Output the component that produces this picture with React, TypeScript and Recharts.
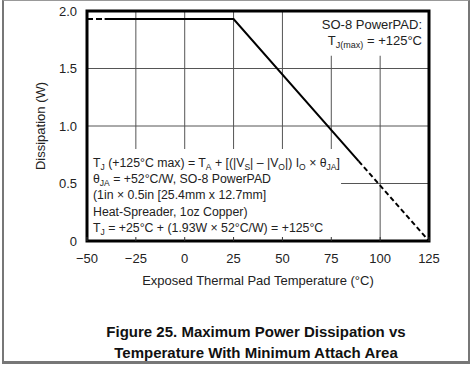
import React from "react";
import {
  LineChart,
  Line,
  XAxis,
  YAxis,
  CartesianGrid,
  ReferenceArea,
} from "recharts";

const tempTicks = [-50, -25, 0, 25, 50, 75, 100, 125];
const powerTicks = [0, 0.5, 1, 1.5, 2];

const dashedLeft = [
  { t: -50, p: 1.93 },
  { t: -41, p: 1.93 },
];
const solidPart = [
  { t: -41, p: 1.93 },
  { t: 25, p: 1.93 },
  { t: 89, p: 0.695 },
];
const dashedRight = [
  { t: 89, p: 0.695 },
  { t: 125, p: 0 },
];

const FONT = "'Liberation Sans', Arial, Helvetica, sans-serif";

// [text, isSubscript]
type Part = [string, boolean];

const renderParts = (parts: Part[], subSize: number) => {
  const out: React.ReactNode[] = [];
  let prevSub = false;
  parts.forEach(([txt, sub], i) => {
    let dy = 0;
    if (sub && !prevSub) dy = 3;
    if (!sub && prevSub) dy = -3;
    out.push(
      <tspan key={i} dy={dy || undefined} fontSize={sub ? subSize : undefined}>
        {txt}
      </tspan>
    );
    prevSub = sub;
  });
  return out;
};

const line1: Part[] = [
  ["T", false],
  ["J", true],
  [" (+125°C max) = T", false],
  ["A", true],
  [" + [(|V", false],
  ["S", true],
  ["| – |V", false],
  ["O", true],
  ["|) I", false],
  ["O", true],
  [" × θ", false],
  ["JA", true],
  ["]", false],
];
const line2: Part[] = [
  ["θ", false],
  ["JA", true],
  [" = +52°C/W, SO-8 PowerPAD", false],
];
const line5: Part[] = [
  ["T", false],
  ["J", true],
  [" = +25°C + (1.93W × 52°C/W) = +125°C", false],
];
const tjMax: Part[] = [
  ["T", false],
  ["J(max)", true],
  [" = +125°C", false],
];

const Annotations = () => (
  <svg
    width={474}
    height={367}
    style={{ position: "absolute", left: 0, top: 0, pointerEvents: "none" }}
  >
    <g fontFamily={FONT} fill="#222">
      {/* upper right note */}
      <text x={422} y={29} fontSize={13} textAnchor="end">
        SO-8 PowerPAD:
      </text>
      <text x={422} y={45} fontSize={13} textAnchor="end">
        {renderParts(tjMax, 9)}
      </text>
      {/* lower left note */}
      <text x={93} y={167} fontSize={12.3}>
        {renderParts(line1, 8.5)}
      </text>
      <text x={93} y={183} fontSize={12.3}>
        {renderParts(line2, 8.5)}
      </text>
      <text x={93} y={199} fontSize={12.3}>
        (1in × 0.5in [25.4mm x 12.7mm]
      </text>
      <text x={93} y={216} fontSize={12.3}>
        Heat-Spreader, 1oz Copper)
      </text>
      <text x={93} y={232} fontSize={12.3}>
        {renderParts(line5, 8.5)}
      </text>
      {/* axis titles */}
      <text x={258} y={285} fontSize={13} textAnchor="middle">
        Exposed Thermal Pad Temperature (°C)
      </text>
      <text
        x={40}
        y={126}
        fontSize={13}
        textAnchor="middle"
        dominantBaseline="central"
        transform="rotate(-90 40 126)"
      >
        Dissipation (W)
      </text>
      {/* figure caption */}
      <text x={256} y={337} fontSize={15} fontWeight="bold" fill="#111" textAnchor="middle">
        Figure 25. Maximum Power Dissipation vs
      </text>
      <text x={256} y={358} fontSize={15} fontWeight="bold" fill="#111" textAnchor="middle">
        Temperature With Minimum Attach Area
      </text>
    </g>
  </svg>
);

const fmtY = (v: number) => (v === 0 ? "0" : v.toFixed(1));
const fmtX = (v: number) => (v < 0 ? "\u2212" + Math.abs(v) : String(v));

export default function App() {
  return (
    <div style={{ position: "absolute", left: 0, top: 0, width: 474, height: 367, background: "#fff" }}>
      <div
        style={{
          position: "absolute",
          left: 2,
          top: 0,
          width: 468,
          height: 364,
          borderLeft: "2px solid #777",
          borderRight: "2px solid #777",
          borderTop: "1px solid #999",
          borderBottom: "3px solid #777",
          boxSizing: "border-box",
        }}
      />
      <div style={{ position: "absolute", left: 0, top: 0 }}>
        <LineChart
          width={474}
          height={367}
          margin={{ top: 11, right: 45, left: 0, bottom: 86 }}
          style={{ fontFamily: FONT }}
        >
          <CartesianGrid stroke="#555" strokeWidth={1} />
          <XAxis
            type="number"
            dataKey="t"
            domain={[-50, 125]}
            ticks={tempTicks}
            tickFormatter={fmtX}
            height={40}
            axisLine={false}
            tickLine={{ stroke: "#333", strokeWidth: 1 }}
            tickSize={-4}
            tickMargin={17}
            tick={{ fill: "#222", fontSize: 13 }}
            allowDataOverflow
          />
          <YAxis
            type="number"
            dataKey="p"
            domain={[0, 2]}
            ticks={powerTicks}
            tickFormatter={fmtY}
            width={87}
            axisLine={false}
            tickLine={false}
            tickSize={6}
            tickMargin={4}
            tick={{ fill: "#222", fontSize: 13 }}
            allowDataOverflow
          />
          <ReferenceArea x1={59} x2={125} y1={1.61} y2={2} fill="#fff" fillOpacity={1} stroke="none" />
          <ReferenceArea x1={-50} x2={80} y1={0} y2={0.8} fill="#fff" fillOpacity={1} stroke="none" />
          <Line
            data={dashedLeft}
            dataKey="p"
            type="linear"
            stroke="#000"
            strokeWidth={2}
            strokeDasharray="6 3"
            dot={false}
            isAnimationActive={false}
          />
          <Line
            data={solidPart}
            dataKey="p"
            type="linear"
            stroke="#000"
            strokeWidth={2}
            dot={false}
            isAnimationActive={false}
          />
          <Line
            data={dashedRight}
            dataKey="p"
            type="linear"
            stroke="#000"
            strokeWidth={2}
            strokeDasharray="5 3"
            dot={false}
            isAnimationActive={false}
          />
          <ReferenceArea
            x1={-50}
            x2={125}
            y1={0}
            y2={2}
            fill="none"
            fillOpacity={0}
            stroke="#000"
            strokeWidth={3}
            ifOverflow="visible"
          />
        </LineChart>
      </div>
      <Annotations />
    </div>
  );
}
